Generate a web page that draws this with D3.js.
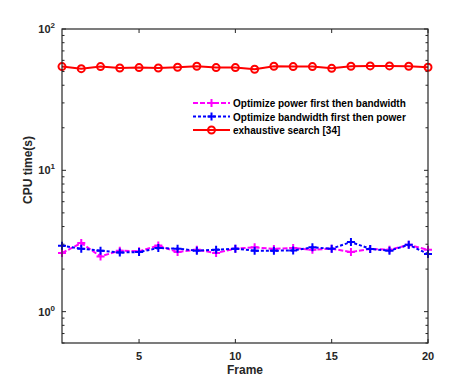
<!DOCTYPE html>
<html>
<head>
<meta charset="utf-8">
<script src="https://cdn.jsdelivr.net/npm/d3@7"></script>
<style>
  body { margin: 0; background: #fff; }
  svg { font-family: "Liberation Sans", Arial, sans-serif; font-weight: bold; }
</style>
</head>
<body>
<svg id="chart" width="474" height="386"></svg>
<script>
// Data
const frames = d3.range(1, 21);
const powerFirst = [2.60, 3.06, 2.46, 2.70, 2.67, 2.94, 2.64, 2.74, 2.60, 2.79, 2.85, 2.78, 2.82, 2.74, 2.79, 2.64, 2.78, 2.74, 2.97, 2.74];
const bandwidthFirst = [2.93, 2.79, 2.70, 2.62, 2.64, 2.82, 2.79, 2.70, 2.74, 2.79, 2.70, 2.70, 2.71, 2.85, 2.79, 3.11, 2.78, 2.70, 2.97, 2.56];
const exhaustive = [54.2, 52.4, 54.2, 53.0, 53.3, 53.0, 53.6, 54.5, 53.3, 53.3, 51.9, 54.5, 54.2, 54.2, 52.7, 54.5, 54.8, 54.8, 54.5, 53.6];
const xTicks = [5, 10, 15, 20];
const yTicks = [1, 10, 100];
const seriesNames = ["Optimize power first then bandwidth", "Optimize bandwidth first then power", "exhaustive search [34]"];

// Layout
const margin = { top: 29, right: 46, bottom: 43, left: 62 };
const width = 474 - margin.left - margin.right;
const height = 386 - margin.top - margin.bottom;

const svg = d3.select("#chart");
const g = svg.append("g").attr("transform", `translate(${margin.left},${margin.top})`);

const x = d3.scaleLinear().domain([1, 20]).range([0, width]);
const y = d3.scaleLog().domain([0.6, 100]).range([height, 0]);

// Minor log ticks
const minor = [];
[0.1, 1, 10].forEach(dec => {
    for (let k = 2; k <= 9; k++) {
        const v = dec * k;
        if (v >= 0.6 && v < 100) minor.push(v);
    }
});

const axisColor = "#262626";

// Ticks pointing inward on all four sides
function tickLines(vals, len, isY) {
    vals.forEach(v => {
        if (isY) {
            g.append("line").attr("x1", 0).attr("x2", len).attr("y1", y(v)).attr("y2", y(v))
                .attr("stroke", axisColor).attr("stroke-width", 1);
            g.append("line").attr("x1", width).attr("x2", width - len).attr("y1", y(v)).attr("y2", y(v))
                .attr("stroke", axisColor).attr("stroke-width", 1);
        } else {
            g.append("line").attr("x1", x(v)).attr("x2", x(v)).attr("y1", height).attr("y2", height - len)
                .attr("stroke", axisColor).attr("stroke-width", 1);
            g.append("line").attr("x1", x(v)).attr("x2", x(v)).attr("y1", 0).attr("y2", len)
                .attr("stroke", axisColor).attr("stroke-width", 1);
        }
    });
}
tickLines(xTicks, 4, false);
tickLines(yTicks, 4, true);
tickLines(minor, 2.5, true);

// Tick labels
xTicks.forEach(v => {
    g.append("text")
        .attr("x", x(v)).attr("y", height + 17)
        .attr("text-anchor", "middle")
        .style("font-size", "11px")
        .attr("fill", axisColor)
        .text(v);
});
yTicks.forEach(v => {
    const t = g.append("text")
        .attr("x", -7).attr("y", y(v) + 4)
        .attr("text-anchor", "end")
        .style("font-size", "11px")
        .attr("fill", axisColor);
    t.append("tspan").text("10");
    t.append("tspan").attr("dy", -5).style("font-size", "8px").text(Math.round(Math.log10(v)));
});

// Axis labels
g.append("text")
    .attr("x", width / 2).attr("y", height + 31)
    .attr("text-anchor", "middle")
    .style("font-size", "12px")
    .attr("fill", axisColor)
    .text("Frame");
g.append("text")
    .attr("transform", "rotate(-90)")
    .attr("x", -(170 - margin.top)).attr("y", -30)
    .attr("text-anchor", "middle")
    .style("font-size", "12px")
    .attr("fill", axisColor)
    .text("CPU time(s)");

// Series
const series = [
    { values: powerFirst, color: "#ff00ff", dash: "5,2", marker: "plus" },
    { values: bandwidthFirst, color: "#0000ff", dash: "3,2", marker: "plus" },
    { values: exhaustive, color: "#ff0000", dash: null, marker: "circle" }
];

const line = d3.line()
    .x((d, i) => x(frames[i]))
    .y(d => y(d));

function drawMarker(sel, type, color, cx, cy) {
    if (type === "plus") {
        sel.append("path")
            .attr("d", `M${cx - 4},${cy}H${cx + 4}M${cx},${cy - 4}V${cy + 4}`)
            .attr("stroke", color).attr("stroke-width", 2).attr("fill", "none");
    } else {
        sel.append("circle")
            .attr("cx", cx).attr("cy", cy).attr("r", 3.5)
            .attr("stroke", color).attr("stroke-width", 2).attr("fill", "none");
    }
}

series.forEach(s => {
    g.append("path")
        .datum(s.values)
        .attr("fill", "none")
        .attr("stroke", s.color)
        .attr("stroke-width", 2)
        .attr("stroke-dasharray", s.dash)
        .attr("d", line);
    const mg = g.append("g");
    s.values.forEach((v, i) => drawMarker(mg, s.marker, s.color, x(frames[i]), y(v)));
});

// Axes box
g.append("rect")
    .attr("width", width).attr("height", height)
    .attr("fill", "none")
    .attr("stroke", axisColor)
    .attr("stroke-width", 1.2);

// Legend
const legend = svg.append("g").attr("transform", "translate(193,103)");
series.forEach((s, i) => {
    const row = legend.append("g").attr("transform", `translate(0,${i * 13.5})`);
    row.append("line")
        .attr("x1", 0).attr("x2", 37).attr("y1", 0).attr("y2", 0)
        .attr("stroke", s.color).attr("stroke-width", 2)
        .attr("stroke-dasharray", s.dash);
    drawMarker(row, s.marker, s.color, 18.5, 0);
    row.append("text")
        .attr("x", 40).attr("y", 4)
        .style("font-size", "10px")
        .attr("fill", "#000")
        .text(seriesNames[i]);
});
</script>
</body>
</html>
